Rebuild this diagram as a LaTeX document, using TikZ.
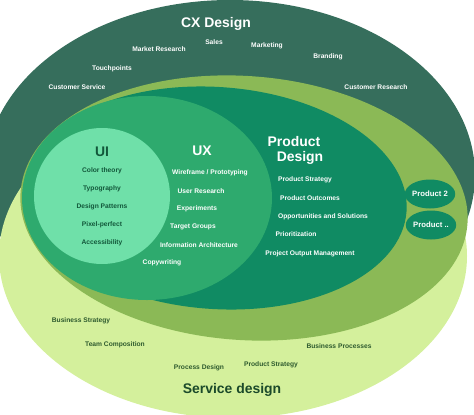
\documentclass[tikz,border=0pt]{standalone}
\usepackage{fontspec}
\setmainfont{Liberation Sans}
\usepackage{xcolor}
\usetikzlibrary{shapes, positioning}

\definecolor{cxgreen}{HTML}{366E5C}
\definecolor{svcgreen}{HTML}{D4F09C}
\definecolor{olivegreen}{HTML}{8BB956}
\definecolor{pdgreen}{HTML}{108B63}
\definecolor{uxgreen}{HTML}{2EAA6E}
\definecolor{uigreen}{HTML}{6FE0A9}
\definecolor{uitext}{HTML}{12573A}
\definecolor{svctext}{HTML}{2E5A2E}
\definecolor{svctitle}{HTML}{1B4A2A}

\begin{document}
\begin{tikzpicture}[x=0.03cm, y=-0.03cm,
    item/.style={font=\fontsize{5.7}{7}\selectfont\bfseries, inner sep=1pt},
    title/.style={font=\fontsize{11.9}{13}\selectfont\bfseries, inner sep=1pt},
    cxitem/.style={item, text=white},
    uiitem/.style={item, text=uitext},
    uxitem/.style={item, text=white},
    svitem/.style={item, text=svctext},
    bubble/.style={ellipse, fill=pdgreen, text=white, inner sep=0pt,
        font=\fontsize{6.6}{8}\selectfont\bfseries}]
    \useasboundingbox (0,0) rectangle (474,414);
    \clip (0,0) rectangle (474,414);

    % circles, outer to inner
    \fill[cxgreen] (230,175) ellipse [x radius=245, y radius=175];
    \fill[svcgreen] (233,256) ellipse [x radius=234, y radius=162];
    \fill[olivegreen, rotate around={-4:(244,208)}] (244,208) ellipse [x radius=224, y radius=132];
    \fill[pdgreen, rotate around={-4:(216,198)}] (216,198) ellipse [x radius=191, y radius=111];
    \fill[uxgreen] (147,198) ellipse [x radius=125, y radius=102];
    \fill[uigreen] (102,196) circle [radius=68];

    % CX design
    \node[title, text=white] (cx) at (216,24) {CX Design};
    \node[cxitem] (market) at (159,49) {Market Research};
    \node[cxitem] (sales) at (214,42) {Sales};
    \node[cxitem] (marketing) at (267,46) {Marketing};
    \node[cxitem] (branding) at (328,57) {Branding};
    \node[cxitem] (touch) at (112,69) {Touchpoints};
    \node[cxitem] (custserv) at (77,87) {Customer Service};
    \node[cxitem] (custres) at (376,87) {Customer Research};

    % UI
    \node[title, text=uitext] (ui) at (102,152) {UI};
    \node[uiitem] (color) at (102,171) {Color theory};
    \node[uiitem] (typo) at (102,189) {Typography};
    \node[uiitem] (patterns) at (102,207) {Design Patterns};
    \node[uiitem] (pixel) at (102,225) {Pixel-perfect};
    \node[uiitem] (access) at (102,243) {Accessibility};

    % UX
    \node[title, text=white] (ux) at (202,151) {UX};
    \node[uxitem] (wire) at (210,173) {Wireframe / Prototyping};
    \node[uxitem] (userres) at (201,191) {User Research};
    \node[uxitem] (exp) at (197,209) {Experiments};
    \node[uxitem] (target) at (193,227) {Target Groups};
    \node[uxitem] (info) at (199,245) {Information Architecture};
    \node[uxitem] (copy) at (162,263) {Copywriting};

    % product design
    \node[title, text=white] (pd1) at (294,142) {Product};
    \node[title, text=white] (pd2) at (300,158) {Design};
    \node[uxitem] (pstrat) at (305,180) {Product Strategy};
    \node[uxitem] (outcomes) at (310,198) {Product Outcomes};
    \node[uxitem] (opps) at (323,217) {Opportunities and Solutions};
    \node[uxitem] (prio) at (296,234) {Prioritization};
    \node[uxitem] (output) at (310,254) {Project Output Management};

    \node[bubble, minimum width=1.38cm, minimum height=0.87cm] (prod2) at (430,194) {Product 2};
    \node[bubble, minimum width=1.44cm, minimum height=0.87cm] (prodn) at (431,225) {Product ..};

    % service design
    \node[svitem] (bstrat) at (81,321) {Business Strategy};
    \node[svitem] (team) at (115,345) {Team Composition};
    \node[svitem] (bproc) at (339,346) {Business Processes};
    \node[svitem] (procdes) at (199,368) {Process Design};
    \node[svitem] (sstrat) at (271,365) {Product Strategy};
    \node[title, text=svctitle] (svc) at (232,390) {Service design};
\end{tikzpicture}
\end{document}
